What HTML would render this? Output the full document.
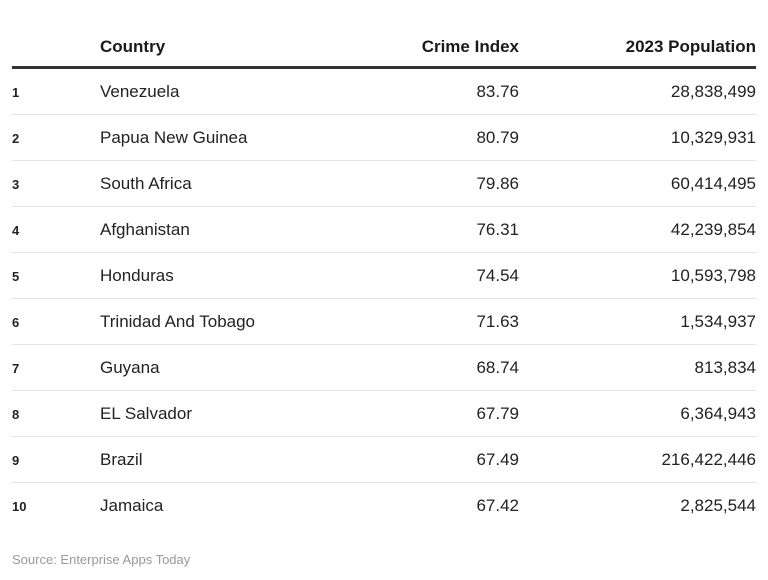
<!DOCTYPE html>
<html><head><meta charset="utf-8"><style>
body{margin:0;width:768px;height:580px;background:#fff;font-family:"Liberation Sans",Arial,sans-serif;color:#222;position:relative;overflow:hidden}
.t{position:absolute;white-space:nowrap;line-height:20px}
.h{font-weight:bold;font-size:17px;color:#1a1a1a}
.c{font-size:17px}
.n{font-size:13px;font-weight:bold;left:12px}
.r{text-align:right}
.line{position:absolute;left:12px;width:744px;height:1px;background:#e4e4e4}
</style></head><body>
<div class="t h" style="left:100px;top:37px">Country</div>
<div class="t h r" style="right:249px;top:37px">Crime Index</div>
<div class="t h r" style="right:12px;top:37px">2023 Population</div>
<div style="position:absolute;left:12px;width:744px;top:66px;height:3px;background:#333"></div>
<div id="rows"></div>
<script>
var d=[["Venezuela","83.76","28,838,499"],["Papua New Guinea","80.79","10,329,931"],["South Africa","79.86","60,414,495"],["Afghanistan","76.31","42,239,854"],["Honduras","74.54","10,593,798"],["Trinidad And Tobago","71.63","1,534,937"],["Guyana","68.74","813,834"],["EL Salvador","67.79","6,364,943"],["Brazil","67.49","216,422,446"],["Jamaica","67.42","2,825,544"]];
var h="";
d.forEach(function(r,i){var y=82+i*46;
h+='<div class="t n" style="top:'+(y+1)+'px">'+(i+1)+'</div>';
h+='<div class="t c" style="left:100px;top:'+y+'px">'+r[0]+'</div>';
h+='<div class="t c r" style="right:249px;top:'+y+'px">'+r[1]+'</div>';
h+='<div class="t c r" style="right:12px;top:'+y+'px">'+r[2]+'</div>';
if(i<9)h+='<div class="line" style="top:'+(114+i*46)+'px"></div>';});
document.getElementById("rows").innerHTML=h;
</script>
<div class="t" style="left:12px;top:550px;font-size:13px;color:#999">Source: Enterprise Apps Today</div>
</body></html>
